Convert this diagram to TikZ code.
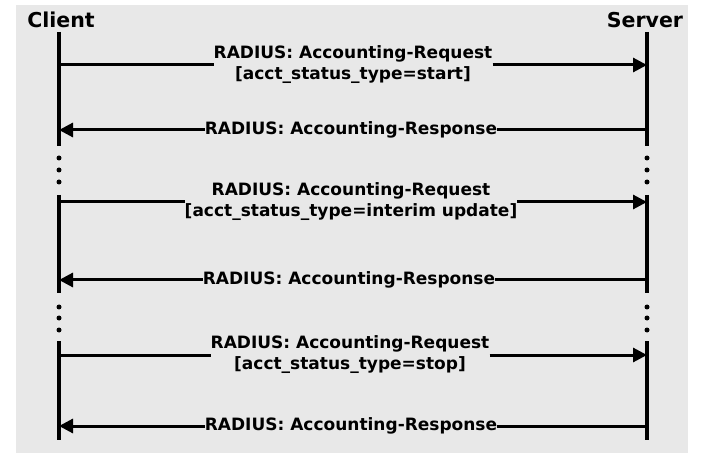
\documentclass[tikz,border=0pt]{standalone}
\usepackage{fontspec}
\setmainfont{DejaVu Sans}
\usetikzlibrary{arrows.meta}
\definecolor{bg}{RGB}{232,232,232}
\tikzset{
  life/.style={line width=3.8bp},
  msg/.style={line width=3bp},
  arr/.style={msg,-{Triangle[length=14bp,width=14bp]}},
  lbl/.style={font=\bfseries\fontsize{17bp}{21bp}\selectfont, align=center, inner sep=0pt},
  head/.style={font=\bfseries\fontsize{20.5bp}{24bp}\selectfont, inner sep=0pt, anchor=base},
  dot/.style={circle, fill=black, inner sep=0pt, minimum size=5bp},
}
\begin{document}
\begin{tikzpicture}[x=1bp,y=-1bp]
\useasboundingbox (0,0) rectangle (701,461);
\fill[bg] (16,5) rectangle (688,453);
% headers
\node[head] (client) at (61,28) {Client};
\node[head] (server) at (645,28) {Server};
% lifeline segments
\coordinate (ca1) at (59,32);  \coordinate (cb1) at (59,146);
\coordinate (ca2) at (59,195); \coordinate (cb2) at (59,293);
\coordinate (ca3) at (59,341); \coordinate (cb3) at (59,440);
\coordinate (sa1) at (647,32);  \coordinate (sb1) at (647,146);
\coordinate (sa2) at (647,195); \coordinate (sb2) at (647,293);
\coordinate (sa3) at (647,341); \coordinate (sb3) at (647,440);
\foreach \i in {1,2,3} {
  \draw[life] (ca\i) -- (cb\i);
  \draw[life] (sa\i) -- (sb\i);
}
% dots
\foreach \y [count=\k] in {158,170,182,307,318,330} {
  \node[dot] (cd\k) at (59,\y) {};
  \node[dot] (sd\k) at (647,\y) {};
}
% message 1
\node[lbl] (q1) at (353,65) {RADIUS: Accounting-Request\\{[}acct\_status\_type=start]};
\coordinate (q1c) at (59,65); \coordinate (q1s) at (647,65);
\draw[msg] (q1c) -- (q1.west);
\draw[arr] (q1.east) -- (q1s);
% response 1
\node[lbl] (r1) at (351,130) {RADIUS: Accounting-Response};
\coordinate (r1c) at (59,130); \coordinate (r1s) at (647,130);
\draw[msg] (r1s) -- (r1.east);
\draw[arr] (r1.west) -- (r1c);
% message 2
\node[lbl] (q2) at (351,202) {RADIUS: Accounting-Request\\{[}acct\_status\_type=interim update]};
\coordinate (q2c) at (59,202); \coordinate (q2s) at (647,202);
\draw[msg] (q2c) -- (q2.west);
\draw[arr] (q2.east) -- (q2s);
% response 2
\node[lbl] (r2) at (349,280) {RADIUS: Accounting-Response};
\coordinate (r2c) at (59,280); \coordinate (r2s) at (647,280);
\draw[msg] (r2s) -- (r2.east);
\draw[arr] (r2.west) -- (r2c);
% message 3
\node[lbl] (q3) at (350,355) {RADIUS: Accounting-Request\\{[}acct\_status\_type=stop]};
\coordinate (q3c) at (59,355); \coordinate (q3s) at (647,355);
\draw[msg] (q3c) -- (q3.west);
\draw[arr] (q3.east) -- (q3s);
% response 3
\node[lbl] (r3) at (351,426) {RADIUS: Accounting-Response};
\coordinate (r3c) at (59,426); \coordinate (r3s) at (647,426);
\draw[msg] (r3s) -- (r3.east);
\draw[arr] (r3.west) -- (r3c);
\end{tikzpicture}
\end{document}
